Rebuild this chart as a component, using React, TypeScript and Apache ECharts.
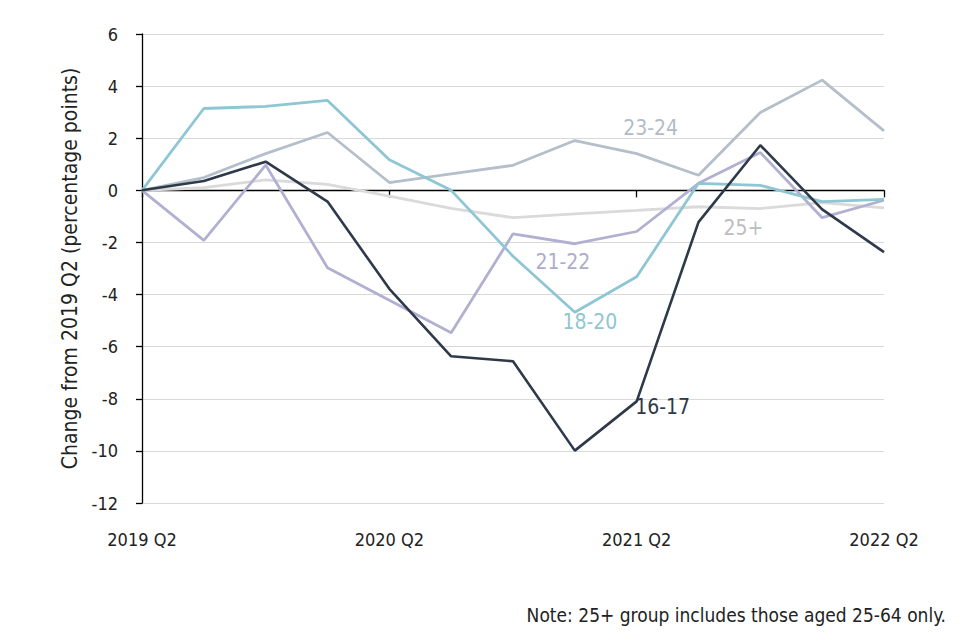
import React, { useEffect, useRef } from 'react';
import * as echarts from 'echarts';

const FONT = "'Liberation Sans Narrow', 'DejaVu Sans Condensed', 'Roboto', sans-serif";

const quarters = [
  '2019 Q2', '2019 Q3', '2019 Q4', '2020 Q1', '2020 Q2', '2020 Q3', '2020 Q4',
  '2021 Q1', '2021 Q2', '2021 Q3', '2021 Q4', '2022 Q1', '2022 Q2',
];

const age1617 = [0, 0.36, 1.1, -0.43, -3.78, -6.37, -6.56, -9.99, -8.1, -1.22, 1.73, -0.73, -2.37];
const age1820 = [0, 3.14, 3.22, 3.45, 1.17, 0.0, -2.53, -4.68, -3.32, 0.27, 0.19, -0.43, -0.35];
const age2122 = [0, -1.92, 0.97, -2.97, -4.22, -5.47, -1.67, -2.05, -1.58, 0.27, 1.45, -1.05, -0.38];
const age2324 = [0, 0.49, 1.41, 2.22, 0.3, 0.63, 0.96, 1.91, 1.41, 0.58, 2.99, 4.23, 2.28];
const age25plus = [0, 0.1, 0.4, 0.23, -0.22, -0.69, -1.05, -0.9, -0.77, -0.63, -0.7, -0.47, -0.67];

const yTicks = { min: -12, max: 6, step: 2 };

interface Group {
  name: string;
  data: number[];
  color: string;
  textColor: string;
  width: number;
  labelAt: number;
  labelOffset: [number, number];
}

const groups: Group[] = [
  { name: '25+', data: age25plus, color: '#dadada', textColor: '#bdbdbd', width: 2.8, labelAt: 10, labelOffset: [-17, 19] },
  { name: '23-24', data: age2324, color: '#b4bfcb', textColor: '#b0bcc8', width: 2.8, labelAt: 8, labelOffset: [14, -26] },
  { name: '21-22', data: age2122, color: '#b2b0d1', textColor: '#aeacce', width: 2.8, labelAt: 7, labelOffset: [-12, 18] },
  { name: '18-20', data: age1820, color: '#8ec6d3', textColor: '#8ec6d3', width: 2.8, labelAt: 7, labelOffset: [15, 10] },
  { name: '16-17', data: age1617, color: '#2e3949', textColor: '#2e3949', width: 2.6, labelAt: 8, labelOffset: [26, 6] },
];

export default function App() {
  const chartRef = useRef<HTMLDivElement>(null);

  useEffect(() => {
    if (!chartRef.current) return;
    const chart = echarts.init(chartRef.current, null, { renderer: 'svg' });

    const option: echarts.EChartsOption = {
      animation: false,
      backgroundColor: '#fff',
      textStyle: { fontFamily: FONT },
      grid: { left: 142, right: 76, top: 34, bottom: 137 },
      xAxis: [
        {
          type: 'category',
          data: quarters,
          boundaryGap: false,
          position: 'bottom',
          axisLine: { show: false, onZero: false },
          axisTick: { show: false },
          splitLine: { show: false },
          axisLabel: { interval: 3, fontSize: 18, color: '#222', margin: 27, fontFamily: FONT },
        },
        {
          type: 'category',
          data: quarters,
          boundaryGap: false,
          position: 'bottom',
          axisLine: { show: true, onZero: true, lineStyle: { color: '#000', width: 1.3 } },
          axisTick: { show: true, interval: 3, length: 7, lineStyle: { color: '#000', width: 1.3 } },
          axisLabel: { show: false },
          splitLine: { show: false },
        },
      ],
      yAxis: {
        type: 'value',
        min: yTicks.min,
        max: yTicks.max,
        interval: yTicks.step,
        name: 'Change from 2019 Q2 (percentage points)',
        nameLocation: 'middle',
        nameRotate: 90,
        nameGap: 58,
        nameTextStyle: { fontSize: 21, color: '#222', fontFamily: FONT },
        axisLine: { show: true, onZero: false, lineStyle: { color: '#000', width: 1.3 } },
        axisTick: { show: true, length: 6, lineStyle: { color: '#000', width: 1.3 } },
        axisLabel: { fontSize: 18, color: '#222', margin: 24, fontFamily: FONT },
        splitLine: { show: true, lineStyle: { color: '#d9d9d9', width: 1 } },
      },
      series: groups.map((g, i) => ({
        name: g.name,
        type: 'line' as const,
        data: g.data,
        showSymbol: false,
        symbol: 'none',
        z: 2 + i,
        lineStyle: { color: g.color, width: g.width },
        itemStyle: { color: g.color },
        markPoint: {
          symbol: 'circle',
          symbolSize: 0,
          silent: true,
          data: [{ coord: [quarters[g.labelAt], g.data[g.labelAt]] }],
          label: {
            show: true,
            position: 'inside',
            offset: g.labelOffset,
            formatter: g.name,
            fontSize: 21,
            color: g.textColor,
            fontFamily: FONT,
          },
        },
      })),
      graphic: [
        {
          type: 'text',
          right: 14,
          top: 605,
          style: {
            text: 'Note: 25+ group includes those aged 25-64 only.',
            fontSize: 19,
            fill: '#222',
            fontFamily: FONT,
          },
        },
      ],
    };

    chart.setOption(option);
    return () => chart.dispose();
  }, []);

  return (
    <div
      ref={chartRef}
      style={{ position: 'fixed', left: 0, top: 0, width: 960, height: 640 }}
    />
  );
}
